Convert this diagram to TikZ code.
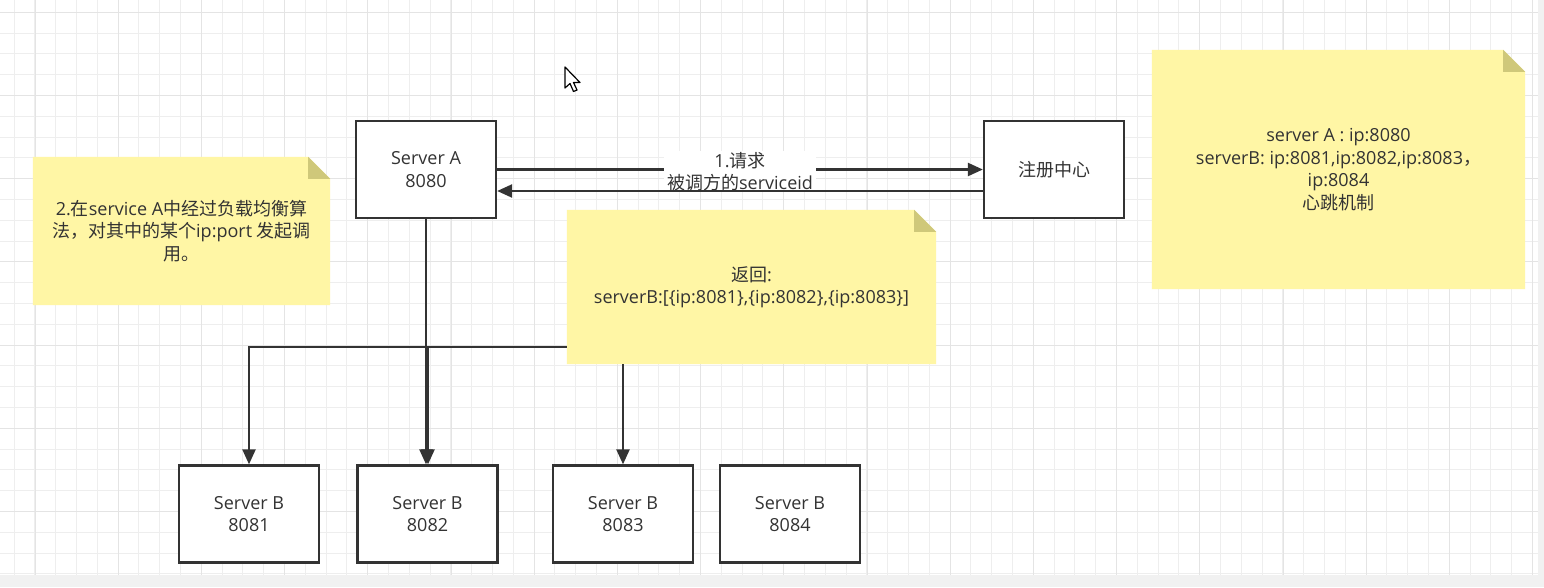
\documentclass[tikz,border=0pt]{standalone}
\usepackage{fontspec}
\setmainfont{Open Sans}
\newfontfamily\cjk{Noto Sans CJK SC}
\usetikzlibrary{positioning,arrows.meta,calc}

\definecolor{linecol}{HTML}{333333}
\definecolor{notefill}{HTML}{FFF6A5}
\definecolor{notefold}{HTML}{CFC87A}
\definecolor{gridminor}{HTML}{EEEEEE}
\definecolor{gridmajor}{HTML}{E4E4E4}
\definecolor{barcol}{HTML}{F1F1F1}

\pgfdeclarelayer{grid}
\pgfdeclarelayer{paper}
\pgfsetlayers{grid,paper,main}

\begin{document}
\begin{tikzpicture}[x=1pt, y=-1pt,
    font=\fontsize{18}{22.5}\selectfont,
    server/.style={draw=linecol, line width=2.3pt, fill=white, text=linecol, align=center, minimum width=140pt, minimum height=97pt},
    notebox/.style={align=center, text=linecol, inner sep=0pt},
    relation/.style={draw=linecol, line width=2.3pt, -{Triangle[width=13pt,length=15pt]}}
]
\useasboundingbox (0,0) rectangle (1544,587);

% Grid
\begin{pgfonlayer}{grid}
\fill[white] (0,0) rectangle (1544,587);
\foreach \i in {0,...,73} \draw[gridminor, line width=1pt] ({14+20.8*\i},0) -- ({14+20.8*\i},575);
\foreach \i in {0,...,27} \draw[gridminor, line width=1pt] (0,{12.3+20.8*\i}) -- (1538,{12.3+20.8*\i});
\foreach \i in {0,...,18} \draw[gridmajor, line width=1pt] ({35.1+83.2*\i},0) -- ({35.1+83.2*\i},575);
\foreach \i in {0,...,6} \draw[gridmajor, line width=1pt] (0,{12.3+83.2*\i}) -- (1538,{12.3+83.2*\i});
\fill[barcol] (1538,0) rectangle (1544,575);
\fill[barcol] (0,575) rectangle (1544,587);
\end{pgfonlayer}

% Servers
\node[server] (serverA) at (426,169.5) {Server A\\8080};
\node[server] (registry) at (1054,169.5) {{\cjk 注册中心}};
\node[server] (serverB1) at (249,514) {Server B\\8081};
\node[server] (serverB2) at (427.5,514) {Server B\\8082};
\node[server] (serverB3) at (623,514) {Server B\\8083};
\node[server] (serverB4) at (790,514) {Server B\\8084};

% Notes
\node[notebox, minimum width=297pt, minimum height=148pt] (lbnote) at (181.5,231)
    {2.{\cjk 在}service A{\cjk 中经过负载均衡算}\\{\cjk 法，对其中的某个}ip:port {\cjk 发起调}\\{\cjk 用。}};
\node[notebox, minimum width=369pt, minimum height=154pt] (retnote) at (751.5,287)
    {{\cjk 返回}:\\serverB:[\{ip:8081\},\{ip:8082\},\{ip:8083\}]};
\node[notebox, minimum width=373pt, minimum height=239pt] (regnote) at (1338.5,169.5)
    {server A : ip:8080\\serverB: ip:8081,ip:8082,ip:8083{\cjk ，}\\ip:8084\\{\cjk 心跳机制}};

\begin{pgfonlayer}{paper}
\foreach \n in {lbnote,retnote,regnote} {
  \fill[notefill] (\n.south west) -- (\n.north west) -- ($(\n.north east)+(-22,0)$)
      -- ($(\n.north east)+(0,22)$) -- (\n.south east) -- cycle;
  \fill[notefold] ($(\n.north east)+(-22,0)$) -- ($(\n.north east)+(-22,22)$)
      -- ($(\n.north east)+(0,22)$) -- cycle;
}
\end{pgfonlayer}

% Relations
\draw[relation] (serverA.east) -- node[fill=white, inner xsep=3pt, inner ysep=1pt, yshift=-2pt, text=linecol, align=center] (reqlabel)
    {1.{\cjk 请求}\\{\cjk 被调方的}serviceid} (registry.west);
\draw[relation] ([yshift=-21.5pt]registry.west) -- ([yshift=-21.5pt]serverA.east);
\draw[relation] (serverA.south) -- (serverA.south |- serverB2.north);
\draw[relation] ($(retnote.west)+(0,60)$) -| ([xshift=0.5pt]serverB2.north);
\draw[relation] ($(retnote.west)+(0,60)$) -| (serverB1.north);
\draw[relation] (serverB3.north |- retnote.south) -- (serverB3.north);

% Cursor
\draw[fill=white, draw=black, line width=1.2pt, line join=round, shift={(565,67)}]
    (0,0) -- (0,21) -- (5,16.5) -- (8.5,24.5) -- (12,23) -- (8.5,15.5) -- (15,15.5) -- cycle;

\end{tikzpicture}
\end{document}
